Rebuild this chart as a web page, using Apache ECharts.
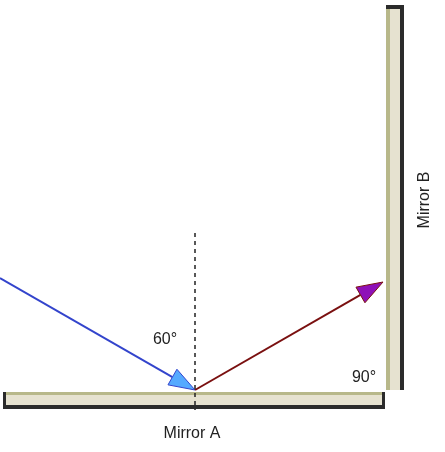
<!DOCTYPE html>
<html>
<head>
<meta charset="utf-8">
<script src="https://cdn.jsdelivr.net/npm/echarts@6/dist/echarts.min.js"></script>
<style>html,body{margin:0;padding:0;background:#fff}#c{width:445px;height:452px}</style>
</head>
<body>
<div id="c"></div>
<script>
// mirrors: [x0, y0, x1, y1] in diagram units (y down)
const mirrors = [[3, 392, 385, 409], [386, 5, 404, 390]];
const normalLine = [[195, 233], [195, 410]];
// rays: [from, to, line colour, head colour]
const rays = [
  [[0, 278], [195, 390], "#3344cc", "#55aaff"],
  [[195, 390], [383, 282], "#7a1010", "#8e10b8"]
];
const labels = [
  ["60°", 165, 340, 0],
  ["90°", 364, 378, 0],
  ["Mirror A", 192, 434, 0],
  ["Mirror B", 425, 200, 90]
];

const chart = echarts.init(document.getElementById("c"));

function mirrorItem(p, api, vertical) {
  const a = api.coord([p[0], p[1]]), b = api.coord([p[2], p[3]]);
  const x = a[0], y = a[1], w = b[0] - a[0], h = b[1] - a[1];
  const kids = [
    { type: "rect", shape: { x, y, width: w, height: h }, style: { fill: "#e6e2d0" } }
  ];
  if (vertical) {
    kids.push({ type: "rect", shape: { x, y, width: 4, height: h }, style: { fill: "#b8b88a" } });
    kids.push({ type: "rect", shape: { x: x + w - 4, y, width: 4, height: h }, style: { fill: "#2b2b2b" } });
    kids.push({ type: "rect", shape: { x, y, width: w, height: 4 }, style: { fill: "#2b2b2b" } });
  } else {
    kids.push({ type: "rect", shape: { x, y, width: w, height: 3 }, style: { fill: "#b8b88a" } });
    kids.push({ type: "rect", shape: { x, y: y + h - 4, width: w, height: 4 }, style: { fill: "#2b2b2b" } });
    kids.push({ type: "rect", shape: { x, y, width: 3, height: h }, style: { fill: "#2b2b2b" } });
    kids.push({ type: "rect", shape: { x: x + w - 3, y, width: 3, height: h }, style: { fill: "#2b2b2b" } });
  }
  return { type: "group", children: kids };
}

function rayItem(r, api, len, half) {
  const a = api.coord(r[0]), b = api.coord(r[1]);
  const dx = b[0] - a[0], dy = b[1] - a[1], d = Math.hypot(dx, dy);
  const ux = dx / d, uy = dy / d, nx = -uy, ny = ux;
  const bx = b[0] - ux * len, by = b[1] - uy * len;
  return {
    type: "group",
    children: [
      { type: "line", shape: { x1: a[0], y1: a[1], x2: bx, y2: by }, style: { stroke: r[2], lineWidth: 2 } },
      { type: "polygon", shape: { points: [b, [bx + nx * half, by + ny * half], [bx - nx * half, by - ny * half]] },
        style: { fill: r[3], stroke: r[2], lineWidth: 1 } }
    ]
  };
}

chart.setOption({
  animation: false,
  grid: { left: 0, right: 0, top: 0, bottom: 0 },
  xAxis: { type: "value", min: 0, max: 445, show: false },
  yAxis: { type: "value", min: 0, max: 452, inverse: true, show: false },
  series: [
    {
      type: "custom",
      data: mirrors.map((m, i) => [...m, i]),
      renderItem: (params, api) => mirrorItem(mirrors[params.dataIndex], api, params.dataIndex === 1)
    },
    {
      type: "line",
      data: normalLine,
      symbol: "none",
      lineStyle: { color: "#222", width: 1.5, type: [4, 4] }
    },
    {
      type: "custom",
      data: rays.map((r, i) => [i]),
      renderItem: (params, api) => rayItem(rays[params.dataIndex], api, 26, 9)
    },
    {
      type: "custom",
      data: labels.map(l => [l[1], l[2]]),
      renderItem: (params, api) => {
        const l = labels[params.dataIndex];
        const p = api.coord([l[1], l[2]]);
        return {
          type: "text", x: p[0], y: p[1], rotation: l[3] * Math.PI / 180,
          style: { text: l[0], fill: "#222", font: "16px 'Liberation Sans', Arial, sans-serif", align: "center", verticalAlign: "middle" }
        };
      }
    }
  ]
});
</script>
</body>
</html>
